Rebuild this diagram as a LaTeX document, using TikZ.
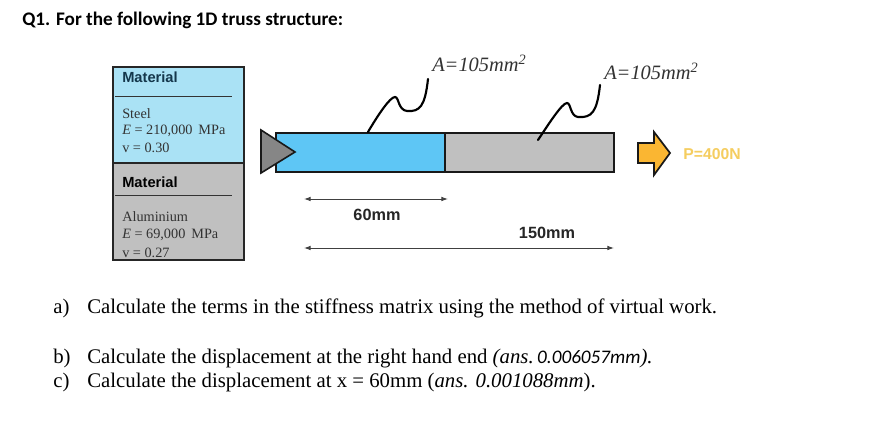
\documentclass[tikz,border=0pt]{standalone}
\usepackage{fontspec}
\setmainfont{Liberation Serif}
\setsansfont{Liberation Sans}
\newfontfamily\titlefont{Carlito}
\usetikzlibrary{arrows.meta}
\definecolor{steelpale}{RGB}{170,226,245}
\definecolor{steelblue}{RGB}{94,198,245}
\definecolor{alugray}{RGB}{192,192,192}
\definecolor{loadorange}{RGB}{250,182,50}
\definecolor{loadtext}{RGB}{245,205,95}
\definecolor{headtext}{RGB}{20,55,75}
\tikzset{
  matbox/.style={draw=black!85,line width=0.9pt},
  barbox/.style={draw=black!90,line width=1.8pt},
  sqline/.style={black,line width=1.6pt,line cap=round},
  dimline/.style={black!75,line width=0.7pt,{Latex[length=5pt,width=3.5pt]}-{Latex[length=5pt,width=3.5pt]}},
  mathead/.style={anchor=west,inner sep=0pt,font=\sffamily\bfseries\fontsize{11}{13}\selectfont},
  matrow/.style={anchor=west,inner sep=0pt,font=\fontsize{10.7}{12}\selectfont,text=black!80},
  dimtext/.style={inner sep=0pt,font=\sffamily\bfseries\fontsize{12.2}{14}\selectfont,text=black!85},
  areatext/.style={anchor=west,inner sep=0pt,font=\itshape\fontsize{15.3}{17}\selectfont,text=black!80},
  qtext/.style={anchor=west,inner sep=0pt,font=\fontsize{15.6}{18}\selectfont}
}
\newcommand{\qlabel}[1]{\makebox[25.5pt][l]{#1}}
\begin{document}
\begin{tikzpicture}[x=0.75pt,y=-0.75pt]
\useasboundingbox (0,0) rectangle (877,423);
\fill[white] (0,0) rectangle (877,423);

\node (title) at (22,20) [anchor=west,inner sep=0pt,font=\titlefont\bfseries\fontsize{14.4}{17}\selectfont] {Q1. For the following 1D truss structure:};

% material table
\filldraw[matbox,fill=steelpale] (113,67) rectangle (244,163);
\filldraw[matbox,fill=alugray] (113,163) rectangle (244,260);
\draw[black!80,line width=0.6pt] (115,96) -- (232,96);
\draw[black!80,line width=0.6pt] (115,195) -- (232,195);
\node (steelhead) at (122,77) [mathead,text=headtext] {Material};
\node (steelname) at (122,114) [matrow] {Steel};
\node (steelE) at (122,131) [matrow] {\textit{E} = 210,000\, MPa};
\node (steelnu) at (122,148) [matrow] {v = 0.30};
\node (aluhead) at (122,182) [mathead] {Material};
\node (aluname) at (122,217) [matrow] {Aluminium};
\node (aluE) at (122,235) [matrow] {\textit{E} = 69,000\, MPa};
\node (alunu) at (122,253) [matrow] {v = 0.27};

% bar
\filldraw[barbox,fill=steelblue] (276,133) rectangle (445,172);
\filldraw[barbox,fill=alugray] (445,133) rectangle (614,172);
\filldraw[draw=black!90,line width=1.2pt,fill=gray!95] (261,130) -- (295,152) -- (261,173) -- cycle;

% area labels
\node (areaA) at (432,63) [areatext] {A=105mm\textsuperscript{2}};
\node (areaB) at (604,71) [areatext] {A=105mm\textsuperscript{2}};
\coordinate (sqAa) at (368,132);
\coordinate (sqAb) at (428,79);
\coordinate (sqBa) at (538,140);
\coordinate (sqBb) at (600,85);
\draw[sqline] (sqAa) .. controls (378,115) and (390,97) .. (395,97)
  .. controls (399,97) and (398,110) .. (407,111)
  .. controls (420,112) and (425,106) .. (sqAb);
\draw[sqline] (sqBa) .. controls (548,125) and (562,103) .. (567,103)
  .. controls (571,103) and (570,116) .. (578,117)
  .. controls (592,118) and (597,112) .. (sqBb);

% load
\filldraw[draw=black!90,line width=1.3pt,fill=loadorange] (638,143) -- (654,143) -- (654,132) -- (670,153) -- (654,175) -- (654,163) -- (638,163) -- cycle;
\node (load) at (712,154) [inner sep=0pt,text=loadtext,font=\sffamily\bfseries\fontsize{11.8}{14}\selectfont] {P=400N};

% dimensions
\coordinate (dimAa) at (304,199);
\coordinate (dimAb) at (448,199);
\coordinate (dimBa) at (304,248);
\coordinate (dimBb) at (614,248);
\draw[dimline] (dimAa) -- (dimAb);
\draw[dimline] (dimBa) -- (dimBb);
\node (dimA) at (377,215) [dimtext] {60mm};
\node (dimB) at (547,233) [dimtext] {150mm};

% questions
\node (qa) at (53,308) [qtext] {\qlabel{a)}Calculate the terms in the stiffness matrix using the method of virtual work.};
\node (qb) at (53,359) [qtext] {\qlabel{b)}Calculate the displacement at the right hand end \textit{(ans.\,{\titlefont\fontsize{14.4}{18}\selectfont 0.006057mm}).}};
\node (qc) at (53,382) [qtext] {\qlabel{c)}Calculate the displacement at x = 60mm (\textit{ans. 0.001088mm}).};
\end{tikzpicture}
\end{document}
